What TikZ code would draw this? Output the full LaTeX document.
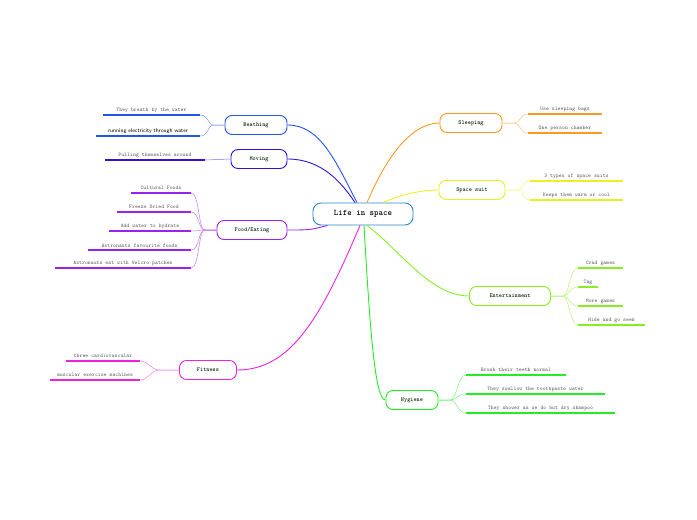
\documentclass[tikz,border=0pt]{standalone}
\usetikzlibrary{calc}
\begin{document}
\begin{tikzpicture}[x=1pt,y=-1pt,
  mainnode/.style={draw=#1,line width=0.9pt,rounded corners=7pt,minimum height=19pt,inner sep=0pt,font=\ttfamily\bfseries\fontsize{6}{7}\selectfont,text=black!70!green!40!black,fill=white},
  leaf/.style={inner sep=0pt,minimum height=9pt,anchor=south,font=\ttfamily\fontsize{5.5}{6}\selectfont,text=black!65},
  uline/.style={line width=1.3pt,draw=#1},
  br/.style={draw=#1!60,line width=0.5pt},
  con/.style={draw=#1,line width=0.9pt}]
\useasboundingbox (0,0) rectangle (697,520);
\definecolor{cb}{HTML}{2255EE}\definecolor{ci}{HTML}{3311DD}\definecolor{cp}{HTML}{9922EE}
\definecolor{cm}{HTML}{EE22DD}\definecolor{co}{HTML}{FF9922}\definecolor{cy}{HTML}{EEEE22}
\definecolor{cl}{HTML}{88EE22}\definecolor{cg}{HTML}{22EE22}\definecolor{cc}{HTML}{2288CC}
\newcommand{\leafat}[6]{% name, x1, x2, y, color, text
  \node[leaf,minimum width={#3-#2}] (#1) at ({(#2+#3)/2},#4) {#6};
  \draw[uline=#5] (#1.south west) -- (#1.south east);}
% center
\node[draw=cc,line width=0.9pt,rounded corners=8pt,minimum width=100pt,minimum height=22pt,fill=white,font=\ttfamily\bfseries\fontsize{8.5}{10}\selectfont] (c) at (363,214) {Life in space};
% main nodes
\node[mainnode=cb,minimum width=62pt] (bea) at (256,125) {Beathing};
\node[mainnode=ci,minimum width=56pt] (mov) at (259,159) {Moving};
\node[mainnode=cp,minimum width=70pt] (food) at (252,230) {Food/Eating};
\node[mainnode=cm,minimum width=57pt] (fit) at (208,370) {Fitness};
\node[mainnode=co,minimum width=62pt] (sle) at (471,123) {Sleeping};
\node[mainnode=cy,minimum width=66pt] (suit) at (472,190) {Space suit};
\node[mainnode=cl,minimum width=81pt] (ent) at (510,296) {Entertainment};
\node[mainnode=cg,minimum width=52pt] (hyg) at (412,400) {Hygiene};
% connectors
\begin{scope}[on background layer/.try]
\draw[con=cb] ($(c.north)+(-6,0)$) .. controls (335,160) and (320,125) .. (bea.east);
\draw[con=ci] ($(c.north)+(-8,0)$) .. controls (340,180) and (320,159) .. (mov.east);
\draw[con=cp] ($(c.south west)+(15,0)$) .. controls (310,230) .. (food.east);
\draw[con=cm] ($(c.south)+(-3,0)$) .. controls (320,320) and (290,370) .. (fit.east);
\draw[con=co] ($(c.north)+(4,0)$) .. controls (385,160) and (410,123) .. (sle.west);
\draw[con=cy] ($(c.north east)+(-30,0)$) .. controls (400,195) and (420,190) .. (suit.west);
\draw[con=cl] ($(c.south)+(4,0)$) .. controls (400,250) and (430,296) .. (ent.west);
\draw[con=cg] ($(c.south)+(1,0)$) .. controls (370,330) and (375,400) .. (hyg.west);
\end{scope}
% leaves
\leafat{b1}{103}{200}{115}{cb}{They breath by the water}
\node[inner sep=0pt,minimum height=9pt,anchor=south,minimum width=104pt,font=\sffamily\fontsize{5.5}{6}\selectfont,text=black] (b2) at (148,136) {running electricity through water};
\draw[uline=cb] (b2.south west) -- (b2.south east);
\leafat{m1}{105}{205}{160}{ci}{Pulling themselves around}
\leafat{f1}{131}{191}{193}{cp}{Cultural Foods}
\leafat{f2}{117}{191}{212}{cp}{Freeze Dried Food}
\leafat{f3}{109}{191}{231}{cp}{Add water to hydrate}
\leafat{f4}{88}{191}{250}{cp}{Astronauts favourite foods}
\leafat{f5}{55}{191}{268}{cp}{Astronauts eat with Velcro patches}
\leafat{t1}{66}{140}{361}{cm}{three cardiovascular}
\leafat{t2}{50}{140}{380}{cm}{muscular exercise machines}
\leafat{s1}{528}{602}{114}{co}{Use sleeping bags}
\leafat{s2}{528}{602}{133}{co}{One person chamber}
\leafat{u1}{530}{623}{181}{cy}{3 types of space suits}
\leafat{u2}{530}{623}{200}{cy}{Keeps them warm or cool}
\leafat{e1}{578}{623}{268}{cl}{Crad games}
\leafat{e2}{578}{598}{287}{cl}{Tag}
\leafat{e3}{578}{623}{306}{cl}{More games}
\leafat{e4}{578}{645}{325}{cl}{Hide and go seek}
\leafat{h1}{466}{566}{375}{cg}{Brush their teeth normal}
\leafat{h2}{466}{605}{394}{cg}{They swallow the toothpaste water}
\leafat{h3}{466}{615}{413}{cg}{They shower as we do but dry shampoo}
% branches (left side)
\foreach \l in {b1,b2} \draw[br=cb] (bea.west) -- ++(-12,0) .. controls ++(-4,0) and ($(\l.south east)+(8,0)$) .. (\l.south east);
\draw[br=ci] (mov.west) -- (m1.south east);
\foreach \l in {f1,f2,f3,f4,f5} \draw[br=cp] (food.west) -- ++(-12,0) .. controls ++(-6,0) and ($(\l.south east)+(8,0)$) .. (\l.south east);
\foreach \l in {t1,t2} \draw[br=cm] (fit.west) -- ++(-20,0) .. controls ++(-8,0) and ($(\l.south east)+(8,0)$) .. (\l.south east);
% right side
\foreach \l in {s1,s2} \draw[br=co] (sle.east) -- ++(12,0) .. controls ++(6,0) and ($(\l.south west)+(-8,0)$) .. (\l.south west);
\foreach \l in {u1,u2} \draw[br=cy] (suit.east) -- ++(12,0) .. controls ++(6,0) and ($(\l.south west)+(-8,0)$) .. (\l.south west);
\foreach \l in {e1,e2,e3,e4} \draw[br=cl] (ent.east) -- ++(12,0) .. controls ++(6,0) and ($(\l.south west)+(-8,0)$) .. (\l.south west);
\foreach \l in {h1,h2,h3} \draw[br=cg] (hyg.east) -- ++(12,0) .. controls ++(6,0) and ($(\l.south west)+(-8,0)$) .. (\l.south west);
\end{tikzpicture}
\end{document}
